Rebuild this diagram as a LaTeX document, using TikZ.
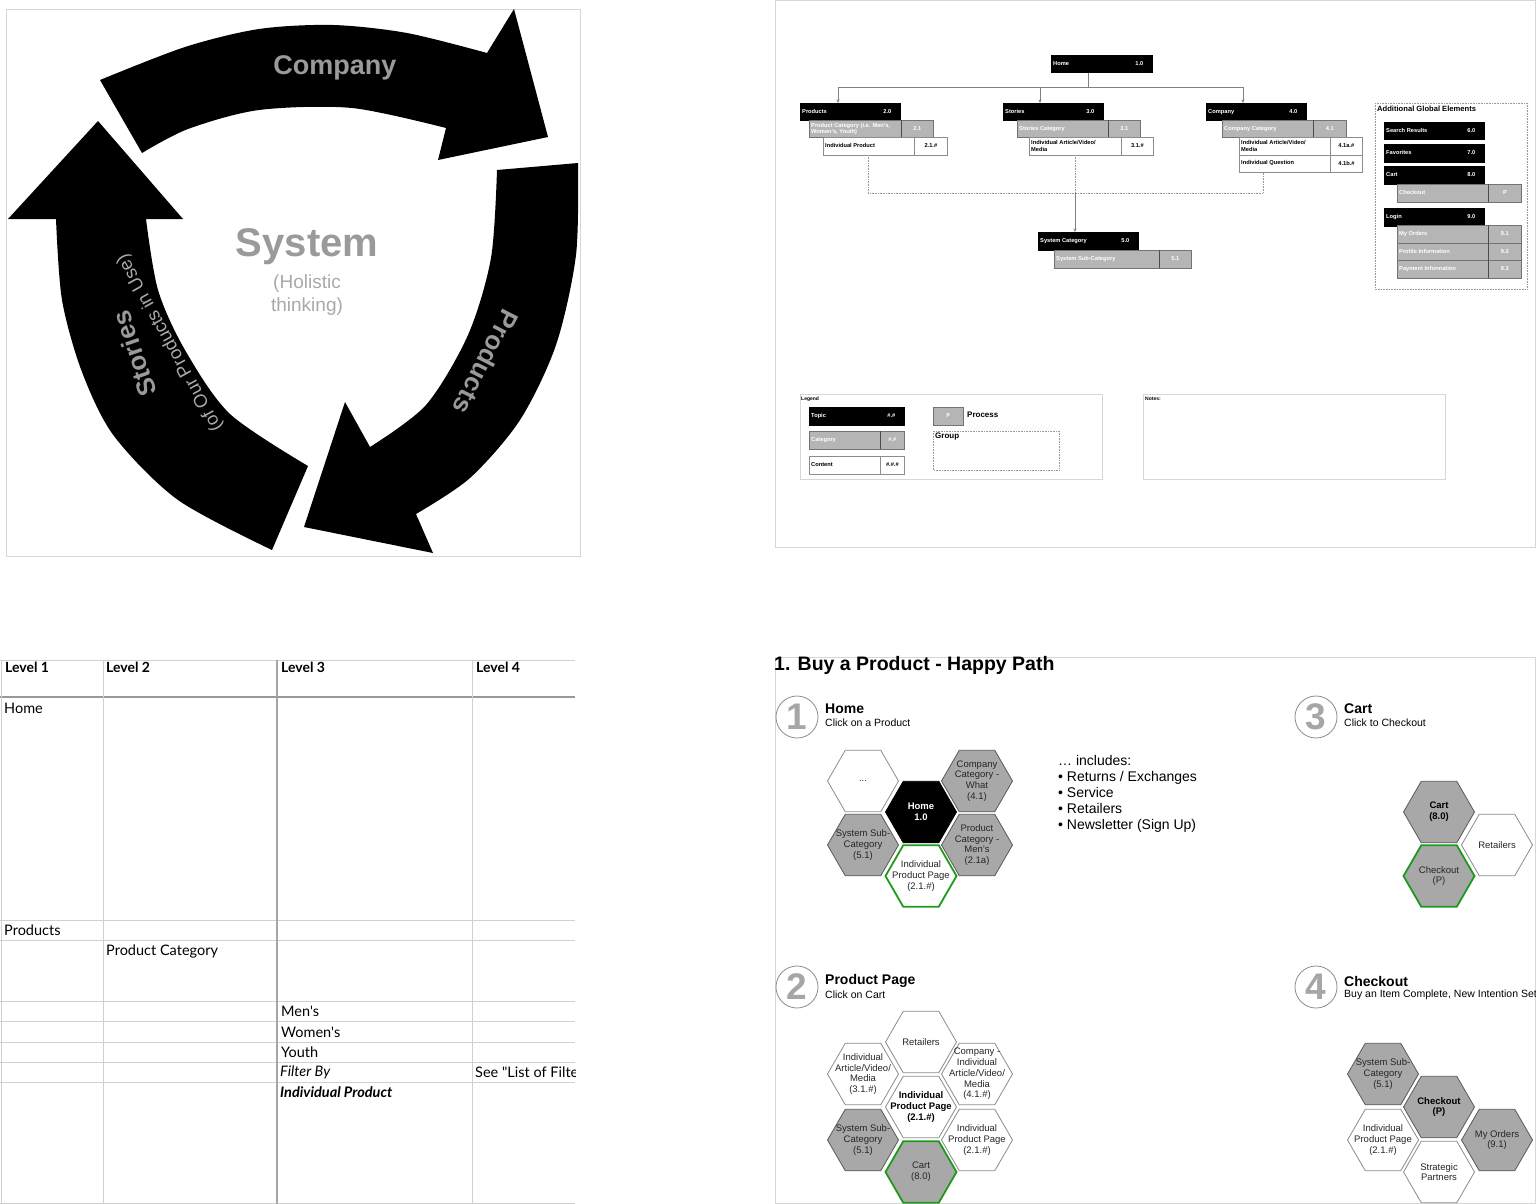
\documentclass[tikz,border=0pt]{standalone}
\usepackage{fontspec}
\setmainfont{Liberation Sans}
\newfontfamily\tablefont{Lato}
\usetikzlibrary{shapes.geometric,arrows.meta,positioning}
\definecolor{catgray}{HTML}{B5B5B5}
\definecolor{hexgray}{HTML}{A8A8A8}
\definecolor{txtgray}{HTML}{9A9A9A}
\definecolor{framegray}{HTML}{D6D6D6}
\definecolor{hexgreen}{HTML}{1E9A1E}
\definecolor{tabline}{HTML}{D0D0D0}

\tikzset{
  topicbox/.style={draw=black, fill=black, inner sep=0, minimum height=17.5, anchor=north west},
  catbox/.style={draw=black!55, fill=catgray, inner sep=0, minimum height=17.5, anchor=north west},
  contbox/.style={draw=black!45, fill=white, inner sep=0, minimum height=17.5, anchor=north west},
  catsep/.style={draw=black!70, line width=0.8},
  topictxt/.style={text=white, font=\fontsize{5.7}{6.3}\selectfont\bfseries, inner sep=0, align=left},
  cattxt/.style={text=white, font=\fontsize{5.7}{6.3}\selectfont\bfseries, inner sep=0, align=left},
  conttxt/.style={text=black, font=\fontsize{5.7}{6.3}\selectfont\bfseries, inner sep=0, align=left},
  conn/.style={draw=black!50, line width=0.6},
  dotconn/.style={draw=black!40, line width=0.6, densely dotted},
  hexbase/.style={regular polygon, regular polygon sides=6, minimum size=71, inner sep=0, line width=0.8},
  hexwhite/.style={hexbase, draw=black!45, fill=white},
  hexgrey/.style={hexbase, draw=black!65, fill=hexgray},
  hexblack/.style={hexbase, draw=black, fill=black},
  hexgo/.style={draw=hexgreen, line width=1.8},
  hextxt/.style={font=\fontsize{9.5}{10.8}\selectfont, align=center, text=black!85, inner sep=0},
  stepcirc/.style={circle, draw=black!45, line width=0.8, minimum size=42, inner sep=0, text=black!35, font=\fontsize{37}{37}\selectfont\bfseries},
  stephead/.style={anchor=west, inner sep=0, font=\fontsize{14}{16}\selectfont\bfseries},
  stepsub/.style={anchor=west, inner sep=0, font=\fontsize{10.5}{12}\selectfont},
  tcell/.style={anchor=west, inner sep=0, font=\tablefont\fontsize{14.5}{16}\selectfont},
  thead/.style={anchor=west, inner sep=0, font=\tablefont\fontsize{14}{16}\selectfont\bfseries}
}

% sitemap boxes: name, x, y, width, label, number (, number cell)
\newcommand{\smtopic}[6]{%
  \node[topicbox, minimum width=#4] (#1) at (#2,#3) {};
  \node[topictxt, anchor=west] (#1-l) at ([xshift=2]#1.west) {#5};
  \node[topictxt] (#1-n) at ([xshift=-13]#1.east) {#6};
}
\newcommand{\smcat}[7]{%
  \node[catbox, minimum width=#4] (#1) at (#2,#3) {};
  \draw[catsep] ([xshift=-#7]#1.north east) -- ([xshift=-#7]#1.south east);
  \node[cattxt, anchor=west] (#1-l) at ([xshift=2]#1.west) {#5};
  \node[cattxt] (#1-n) at ([xshift=-#7/2]#1.east) {#6};
}
\newcommand{\smcont}[7]{%
  \node[contbox, minimum width=#4] (#1) at (#2,#3) {};
  \draw[catsep, draw=black!45] ([xshift=-#7]#1.north east) -- ([xshift=-#7]#1.south east);
  \node[conttxt, anchor=west] (#1-l) at ([xshift=2]#1.west) {#5};
  \node[conttxt] (#1-n) at ([xshift=-#7/2]#1.east) {#6};
}

\begin{document}
\begin{tikzpicture}[x=1pt,y=-1pt]
\useasboundingbox (0,0) rectangle (1536,1204);
\fill[white] (0,0) rectangle (1536,1204);

%%%%% cycle
\draw[framegray] (6,9) rectangle (580,556);

%Company arrow
\fill[black] plot[smooth] coordinates {(100,80) (185,47) (259,29) (333,25) (407,33) (487,53)}
  -- (514,9) -- (548,137) -- (438,160) -- (446,128)
  -- plot[smooth] coordinates {(446,128) (352,108) (259,110) (188,129) (142,153)} -- cycle;

%Products arrow
\fill[black] plot[smooth] coordinates {(578,163) (576,255) (556,345) (520,420) (470,478) (416,514)}
  -- (433,553) -- (304,527) -- (345,402) -- (370,447)
  -- plot[smooth] coordinates {(370,447) (426,405) (468,335) (491,258) (497,170)} -- cycle;

%Stories arrow
\fill[black] plot[smooth] coordinates {(308,466) (230,414) (185,350) (158,290) (146,219)}
  -- (183,219) -- (98,121) -- (8,219) -- (56,219)
  -- plot[smooth] coordinates {(56,219) (62,300) (82,372) (114,436) (178,500) (272,550)} -- cycle;

\node[text=txtgray, font=\fontsize{27}{30}\selectfont\bfseries] (company) at (335,68) {Company};
\node[text=txtgray, font=\fontsize{26}{30}\selectfont\bfseries, rotate=-117] (products) at (486,362) {Products};
\node[text=txtgray, font=\fontsize{26}{30}\selectfont\bfseries, rotate=109] (stories) at (134,354) {Stories};
\node[text=txtgray!85, font=\fontsize{18.5}{20}\selectfont, rotate=119] (ofuse) at (170,343) {(of Our Products in Use)};
\node[text=txtgray, font=\fontsize{40}{44}\selectfont\bfseries] (system) at (307,247) {System};
\node[text=txtgray!85, font=\fontsize{19}{23}\selectfont, align=center] (holistic) at (307,295) {(Holistic\\thinking)};

%%%%% sitemap
\draw[framegray] (775,0.5) rectangle (1535.5,547);

\smtopic{home}{1051}{55}{101}{Home}{1.0}

%products branch
\smtopic{prod}{800}{103}{100}{Products}{2.0}
\smcat{prodcat}{809}{120}{124}{Product Category (i.e. Men's,\\Women's, Youth)}{2.1}{32}
\smcont{prodind}{823}{137}{124}{Individual Product}{2.1.\#}{33}

%stories branch
\smtopic{stor}{1003}{103}{100}{Stories}{3.0}
\smcat{storcat}{1017}{120}{123}{Stories Category}{3.1}{32}
\smcont{storind}{1029}{137}{124}{Individual Article/Video/\\Media}{3.1.\#}{32}

%company branch
\smtopic{comp}{1206}{103}{100}{Company}{4.0}
\smcat{compcat}{1222}{120}{124}{Company Category}{4.1}{33}
\smcont{compind}{1239}{137}{123}{Individual Article/Video/\\Media}{4.1a.\#}{32}
\smcont{compq}{1239}{154.5}{123}{Individual Question}{4.1b.\#}{32}

%system
\smtopic{sys}{1038}{232}{100}{System Category}{5.0}
\smcat{syssub}{1054}{250}{137}{System Sub-Category}{5.1}{32}

%home bus
\coordinate (hbus) at (1088,87);
\draw[conn] (home.south -| hbus) -- (hbus);
\draw[conn] ([xshift=38]prod.north west |- hbus) -- ([xshift=37]comp.north west |- hbus);
\draw[conn, -{Stealth[length=3.5,width=3]}] ([xshift=38]prod.north west |- hbus) -- ([xshift=38]prod.north west);
\draw[conn, -{Stealth[length=3.5,width=3]}] ([xshift=37]stor.north west |- hbus) -- ([xshift=37]stor.north west);
\draw[conn, -{Stealth[length=3.5,width=3]}] ([xshift=37]comp.north west |- hbus) -- ([xshift=37]comp.north west);

%dotted join to system
\coordinate (sysjoin) at (1075,193);
\draw[dotconn] (prodind.south -| 868,0) |- (sysjoin) -| (compq.south -| 1263,0);
\draw[dotconn] (storind.south -| sysjoin) -- (sysjoin);
\draw[conn, -{Stealth[length=3.5,width=3]}] (sysjoin) -- (sys.north -| sysjoin);

%additional global elements
\draw[dotconn] (1375,103) rectangle (1527,289);
\node[anchor=west, inner sep=0, font=\fontsize{7.6}{9}\selectfont\bfseries] (globtitle) at (1377,108.5) {Additional Global Elements};
\smtopic{search}{1384}{122}{100}{Search Results}{6.0}
\smtopic{fav}{1384}{144}{100}{Favorites}{7.0}
\smtopic{cart}{1384}{166}{100}{Cart}{8.0}
\smcat{checkout}{1397}{184}{124}{Checkout}{P}{33}
\smtopic{login}{1384}{208}{100}{Login}{9.0}
\smcat{orders}{1397}{225}{124}{My Orders}{9.1}{33}
\smcat{profile}{1397}{242.5}{124}{Profile Information}{9.2}{33}
\smcat{payment}{1397}{260}{124}{Payment Information}{9.3}{33}

%legend
\draw[framegray, line width=0.8] (800,394) rectangle (1102,479);
\node[anchor=west, inner sep=0, font=\fontsize{5}{6}\selectfont\bfseries] (legend) at (801,399) {Legend};
\smtopic{lgtopic}{809}{407}{95}{Topic}{\#.\#}
\smcat{lgcat}{809}{431}{95}{Category}{\#.\#}{24}
\smcont{lgcont}{809}{456}{95}{Content}{\#.\#.\#}{24}
\node[catbox, minimum width=30] (lgproc) at (933,407) {};
\node[cattxt] (lgproc-l) at (lgproc.center) {P};
\node[anchor=west, inner sep=0, font=\fontsize{8}{9}\selectfont\bfseries] (lgproc-t) at (967,415) {Process};
\draw[dotconn] (933,431) rectangle (1059,470);
\node[anchor=west, inner sep=0, font=\fontsize{8}{9}\selectfont\bfseries] (lggroup) at (935,436.5) {Group};

%notes
\draw[framegray, line width=0.8] (1143,394) rectangle (1445,479);
\node[anchor=west, inner sep=0, font=\fontsize{5}{6}\selectfont\bfseries] (notes) at (1145,399) {Notes:};

%%%%% table
\foreach \yy in {660,920,940,1001,1021,1042,1062,1082,1203}
  \draw[tabline, line width=1] (0,\yy) -- (575,\yy);
\draw[black!40, line width=1.2] (0,697) -- (575,697);
\foreach \xx in {1,103,472}
  \draw[tabline, line width=1] (\xx,660) -- (\xx,1204);
\draw[black!35, line width=1.4] (277,660) -- (277,1204);

\node[thead] (lv1) at (5,667) {Level 1};
\node[thead] (lv2) at (106,667) {Level 2};
\node[thead] (lv3) at (281,667) {Level 3};
\node[thead] (lv4) at (476,667) {Level 4};
\node[tcell] (thome) at (4,708) {Home};
\node[tcell] (tprod) at (4,930) {Products};
\node[tcell] (tcat) at (106,951) {Product Category};
\node[tcell] (tmen) at (281,1011) {Men's};
\node[tcell] (twomen) at (281,1032) {Women's};
\node[tcell] (tyouth) at (281,1052) {Youth};
\node[tcell, font=\tablefont\fontsize{14.5}{16}\selectfont\itshape] (tfilter) at (280,1072) {Filter By};
\node[tcell, font=\tablefont\fontsize{14.5}{16}\selectfont\bfseries\itshape] (tind) at (280,1092) {Individual Product};
\begin{scope}
  \clip (472,1063) rectangle (575,1082);
  \node[tcell] (tsee) at (475,1072) {See "List of Filters"};
\end{scope}

%%%%% happy path
\draw[framegray] (775,657) -- (1536,657);
\draw[framegray] (775,657) -- (775,1204);
\draw[framegray] (1535.5,657) -- (1535.5,1204);
\draw[framegray] (775,1203.5) -- (1536,1203.5);
\node[anchor=west, inner sep=0, font=\fontsize{19.5}{22}\selectfont\bfseries] (flowtitle) at (774,665) {1. Buy a Product - Happy Path};

%step 1
\node[stepcirc] (s1) at (797,717) {1};
\node[stephead] (s1h) at (825,709) {Home};
\node[stepsub] (s1s) at (825,723) {Click on a Product};
\node[hexwhite, label={[hextxt]center:{...}}] (a1) at (863,781) {};
\node[hexgrey, label={[hextxt]center:{Company\\Category -\\What\\(4.1)}}] (a2) at (977,781) {};
\node[hexblack, label={[hextxt, text=white, font=\fontsize{9.5}{10.8}\selectfont\bfseries]center:{Home\\1.0}}] (a0) at (921,812) {};
\node[hexgrey, label={[hextxt]center:{System Sub-\\Category\\(5.1)}}] (a3) at (863,845) {};
\node[hexgrey, label={[hextxt]center:{Product\\Category -\\Men's\\(2.1a)}}] (a4) at (977,845) {};
\node[hexwhite, hexgo, label={[hextxt]center:{Individual\\Product Page\\(2.1.\#)}}] (a5) at (921,876) {};
\node[anchor=north west, inner sep=0, align=left, font=\fontsize{14}{16}\selectfont] (incl) at (1058,755)
  {… includes:\\• Returns / Exchanges\\• Service\\• Retailers\\• Newsletter (Sign Up)};

%step 2
\node[stepcirc] (s2) at (797,987) {2};
\node[stephead] (s2h) at (825,981) {Product Page};
\node[stepsub] (s2s) at (825,995) {Click on Cart};
\node[hexwhite, label={[hextxt]center:{Retailers}}] (b1) at (921,1042) {};
\node[hexwhite, label={[hextxt]center:{Individual\\Article/Video/\\Media\\(3.1.\#)}}] (b2) at (863,1074) {};
\node[hexwhite, label={[hextxt]center:{Company -\\Individual\\Article/Video/\\Media\\(4.1.\#)}}] (b3) at (977,1074) {};
\node[hexwhite, label={[hextxt, font=\fontsize{9.5}{10.8}\selectfont\bfseries, text=black]center:{Individual\\Product Page\\(2.1.\#)}}] (b0) at (921,1107) {};
\node[hexgrey, label={[hextxt]center:{System Sub-\\Category\\(5.1)}}] (b4) at (863,1140) {};
\node[hexwhite, label={[hextxt]center:{Individual\\Product Page\\(2.1.\#)}}] (b5) at (977,1140) {};
\node[hexgrey, hexgo, label={[hextxt]center:{Cart\\(8.0)}}] (b6) at (921,1172) {};

%step 3
\node[stepcirc] (s3) at (1316,717) {3};
\node[stephead] (s3h) at (1344,709) {Cart};
\node[stepsub] (s3s) at (1344,723) {Click to Checkout};
\node[hexgrey, label={[hextxt, font=\fontsize{9.5}{10.8}\selectfont\bfseries, text=black]center:{Cart\\(8.0)}}] (c0) at (1439,812) {};
\node[hexwhite, label={[hextxt]center:{Retailers}}] (c1) at (1497,845) {};
\node[hexgrey, hexgo, label={[hextxt]center:{Checkout\\(P)}}] (c2) at (1439,876) {};

%step 4
\node[stepcirc] (s4) at (1316,987) {4};
\node[stephead] (s4h) at (1344,981) {Checkout};
\node[stepsub] (s4s) at (1344,995) {Buy an Item Complete, New Intention Set};
\node[hexgrey, label={[hextxt]center:{System Sub-\\Category\\(5.1)}}] (d1) at (1383,1074) {};
\node[hexgrey, label={[hextxt, font=\fontsize{9.5}{10.8}\selectfont\bfseries, text=black]center:{Checkout\\(P)}}] (d0) at (1439,1107) {};
\node[hexwhite, label={[hextxt]center:{Individual\\Product Page\\(2.1.\#)}}] (d2) at (1383,1140) {};
\node[hexgrey, label={[hextxt]center:{My Orders\\(9.1)}}] (d3) at (1497,1140) {};
\node[hexwhite, label={[hextxt]center:{Strategic\\Partners}}] (d4) at (1439,1172) {};
\end{tikzpicture}
\end{document}
